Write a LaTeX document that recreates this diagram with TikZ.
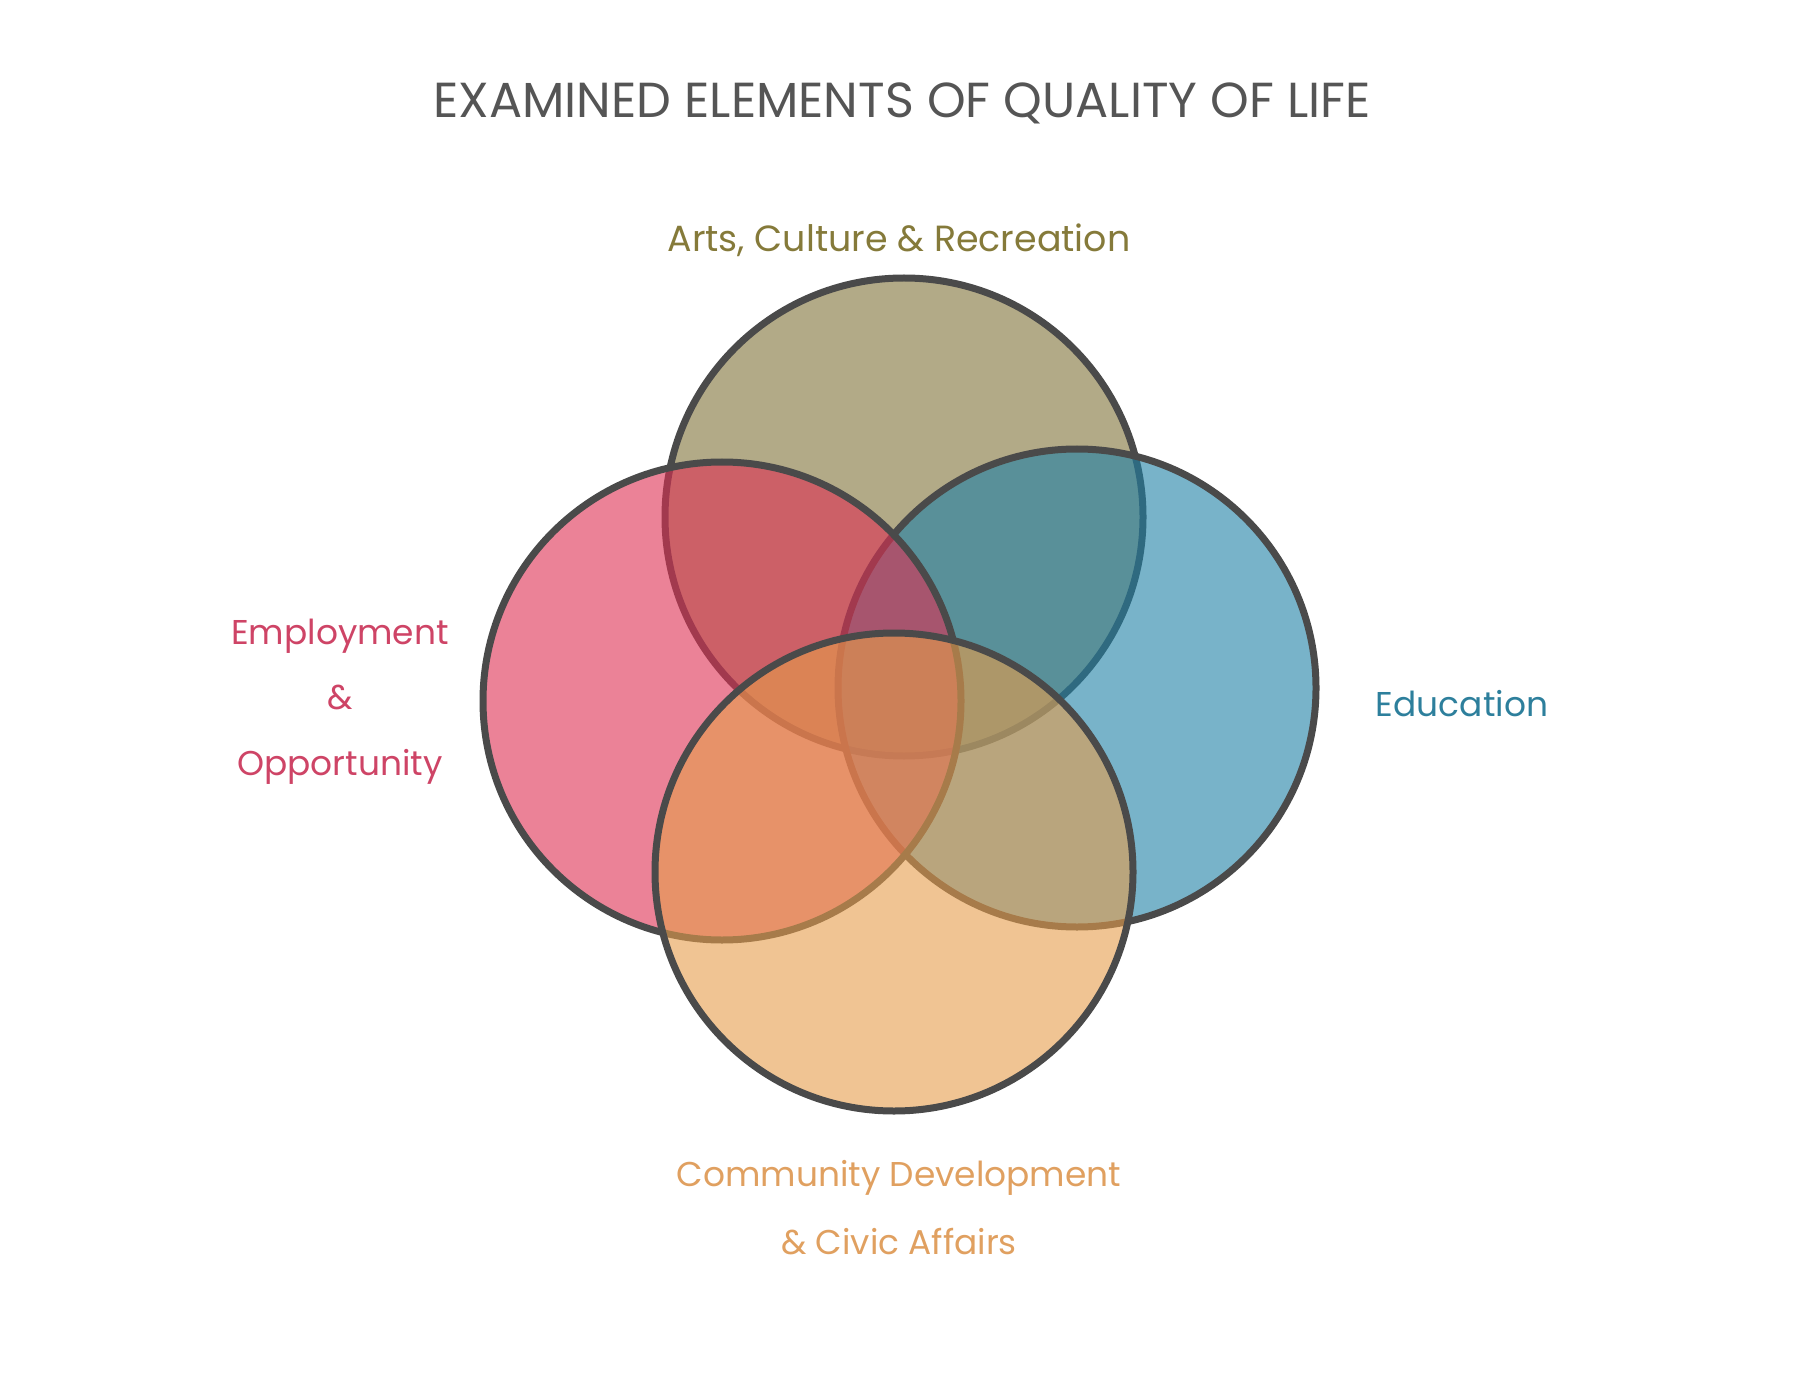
\documentclass[tikz,border=0pt]{standalone}
\usepackage{fontspec}
\setmainfont{Poppins}
\definecolor{strokegray}{HTML}{4A4A4A}
\definecolor{artsfill}{HTML}{7F7137}
\definecolor{empfill}{HTML}{DD2F52}
\definecolor{edufill}{HTML}{1E80A5}
\definecolor{comfill}{HTML}{E69D4B}
\definecolor{artstext}{HTML}{857A3A}
\definecolor{emptext}{HTML}{CE4466}
\definecolor{edutext}{HTML}{2D7F9C}
\definecolor{comtext}{HTML}{E0A060}
\definecolor{titlegray}{HTML}{555555}
\begin{document}
\begin{tikzpicture}[x=0.5pt,y=-0.5pt,
  ring/.style={draw=strokegray,line width=3.5pt,fill opacity=0.6},
  lbl/.style={inner sep=0pt,font=\fontsize{17.2}{20}\selectfont},
  biglbl/.style={inner sep=0pt,font=\fontsize{18.2}{21}\selectfont},
  ttl/.style={inner sep=0pt,text=titlegray,font=\fontsize{24.6}{29}\selectfont}]
\useasboundingbox (0,0) rectangle (1799,1390);
% circles (order: top, right, left, bottom)
\path[ring,fill=artsfill] (904,517) circle[radius=239];
\path[ring,fill=edufill] (1077,688) circle[radius=239];
\path[ring,fill=empfill] (722,701) circle[radius=239];
\path[ring,fill=comfill] (894,872) circle[radius=239];
% title
\node[ttl] (title) at (902,103) {EXAMINED ELEMENTS OF QUALITY OF LIFE};
% labels
\node[biglbl,text=artstext] (arts) at (899,240) {Arts, Culture \& Recreation};
\node[lbl,text=emptext] (emp1) at (340,636) {Employment};
\node[lbl,text=emptext] (emp2) at (340,697) {\&};
\node[lbl,text=emptext] (emp3) at (340,767) {Opportunity};
\node[lbl,text=edutext] (edu) at (1462,704) {Education};
\node[lbl,text=comtext] (com1) at (899,1178) {Community Development};
\node[lbl,text=comtext] (com2) at (899,1242) {\& Civic Affairs};
\end{tikzpicture}
\end{document}
